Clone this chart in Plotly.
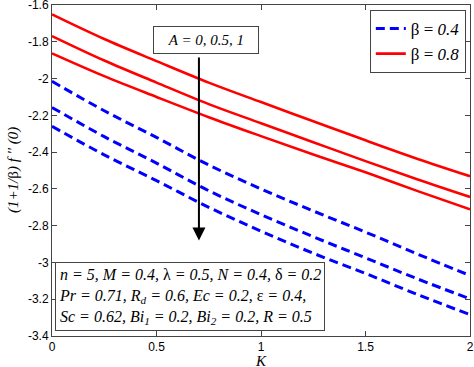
import plotly.graph_objects as go

K = [0, 0.25, 0.5, 0.75, 1.0, 1.25, 1.5, 1.75, 2.0]
# beta = 0.8 (solid red), A = 0, 0.5, 1
red_A0 = [-1.651, -1.785, -1.905, -2.022, -2.128, -2.232, -2.336, -2.437, -2.531]
red_A05 = [-1.769, -1.902, -2.022, -2.139, -2.243, -2.346, -2.449, -2.549, -2.644]
red_A1 = [-1.863, -1.987, -2.100, -2.210, -2.313, -2.413, -2.510, -2.612, -2.711]
# beta = 0.4 (dashed blue)
blue_A0 = [-2.015, -2.175, -2.320, -2.470, -2.600, -2.720, -2.835, -2.955, -3.071]
blue_A05 = [-2.157, -2.316, -2.460, -2.610, -2.740, -2.860, -2.975, -3.090, -3.198]
blue_A1 = [-2.260, -2.415, -2.555, -2.700, -2.830, -2.950, -3.060, -3.175, -3.284]

x_ticks = [0, 0.5, 1, 1.5, 2]
x_ticktext = ["0", "0.5", "1", "1.5", "2"]
y_ticks = [-1.6, -1.8, -2.0, -2.2, -2.4, -2.6, -2.8, -3.0, -3.2, -3.4]
y_ticktext = ["-1.6", "-1.8", "-2", "-2.2", "-2.4", "-2.6", "-2.8", "-3", "-3.2", "-3.4"]

BLUE = "#0000ff"
RED = "#ff0000"
SERIF = "Liberation Serif, Times New Roman, serif"
SANS = "Liberation Sans, Arial, sans-serif"

fig = go.Figure()
blues = [blue_A0, blue_A05, blue_A1]
reds = [red_A0, red_A05, red_A1]
for i, ys in enumerate(blues):
    fig.add_trace(go.Scatter(x=K, y=ys, mode="lines",
                             line=dict(color=BLUE, width=3, dash="9px,5px", shape="spline"),
                             name="β = <i>0.4</i>", showlegend=(i == 0), legendgroup="b"))
for i, ys in enumerate(reds):
    fig.add_trace(go.Scatter(x=K, y=ys, mode="lines",
                             line=dict(color=RED, width=2.6, shape="spline"),
                             name="β = <i>0.8</i>", showlegend=(i == 0), legendgroup="r"))

# arrow
fig.add_annotation(x=0.703, y=-2.88, ax=0.703, ay=-1.878, xref="x", yref="y",
                   axref="x", ayref="y", showarrow=True, arrowhead=2, arrowsize=1.3,
                   arrowwidth=2, arrowcolor="black", text="")
fig.add_annotation(x=0.737, y=-1.788, xref="x", yref="y", showarrow=False,
                   text="<i>A = 0, 0.5, 1</i>", font=dict(family=SERIF, size=15, color="black"),
                   bordercolor="#444", borderwidth=1, borderpad=5, bgcolor="white",
                   width=94)
fig.add_annotation(x=0.0144, y=-3.372, xref="x", yref="y", xanchor="left", yanchor="bottom",
                   showarrow=False, align="left",
                   text=("<i>n = 5, M = 0.4, </i>λ<i> = 0.5, N = 0.4, </i>δ<i> = 0.2</i><br>"
                         "<i>Pr = 0.71, R<sub>d</sub> = 0.6, Ec = 0.2, </i>ε<i> = 0.4,</i><br>"
                         "<i>Sc = 0.62, Bi<sub>1</sub> = 0.2, Bi<sub>2</sub> = 0.2, R = 0.5</i>"),
                   font=dict(family=SERIF, size=16, color="black"),
                   bordercolor="#444", borderwidth=1, borderpad=3, bgcolor="white")
# axis titles
fig.add_annotation(x=(261 - 52) / 418, y=-(361 - 336) / 331, xref="paper", yref="paper",
                   showarrow=False, text="<i>K</i>", yanchor="middle",
                   font=dict(family=SERIF, size=15, color="black"))
fig.add_annotation(x=-(52 - 13) / 418, y=1 - (170 - 5) / 331, xref="paper", yref="paper",
                   showarrow=False, text="<i>(1+1/</i>β<i>) f '' (0)</i>", textangle=-90,
                   xanchor="center", yanchor="middle",
                   font=dict(family=SERIF, size=15, color="black"))

fig.update_layout(
    width=474, height=367,
    margin=dict(l=52, r=4, t=5, b=31, autoexpand=False),
    paper_bgcolor="white", plot_bgcolor="white",
    showlegend=True,
    legend=dict(x=0.99, y=0.985, xanchor="right", yanchor="top",
                bordercolor="#444", borderwidth=1, bgcolor="white",
                font=dict(family=SERIF, size=17, color="black"),
                itemwidth=30, tracegroupgap=0),
    xaxis=dict(range=[0, 2], tickvals=x_ticks, ticktext=x_ticktext, automargin=False,
               ticks="inside", ticklen=5, tickcolor="#444", mirror="ticks",
               ticklabeloverflow="allow",
               showline=True, linecolor="#444", linewidth=1, showgrid=False, zeroline=False,
               tickfont=dict(family=SANS, size=12, color="black")),
    yaxis=dict(range=[-3.4, -1.6], tickvals=y_ticks, ticktext=y_ticktext, automargin=False,
               ticks="inside", ticklen=5, tickcolor="#444", mirror="ticks",
               ticklabeloverflow="allow",
               showline=True, linecolor="#444", linewidth=1, showgrid=False, zeroline=False,
               tickfont=dict(family=SANS, size=12, color="black")),
)
fig.write_html("out.html", config={"displayModeBar": False},
               post_script="document.body.style.margin='0';document.body.style.overflow='hidden';")
